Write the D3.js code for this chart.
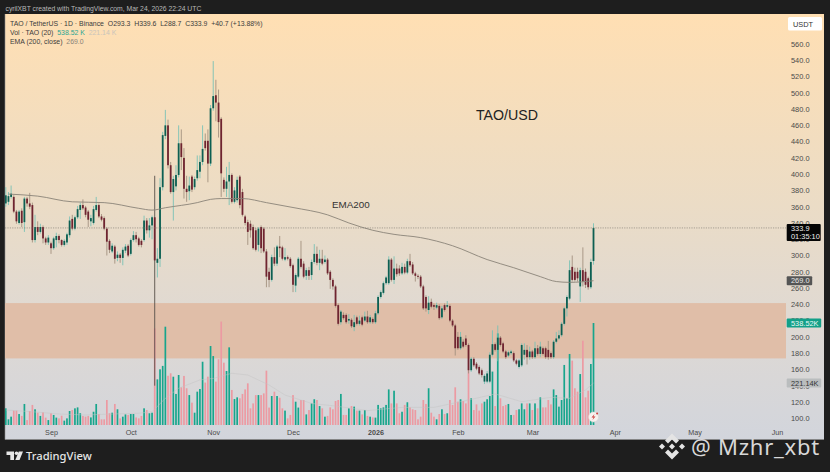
<!DOCTYPE html>
<html lang="en">
<head>
<meta charset="UTF-8">
<title>TAO/USD</title>
<script src="https://d3js.org/d3.v7.min.js"></script>
<style>
  html, body { margin: 0; padding: 0; background: #1e1e1e; }
  svg { display: block; font-family: "Liberation Sans", Arial, sans-serif; }
  text { white-space: pre; }
</style>
</head>
<body>
<div id="chart"></div>

<script>
// Daily candles, one per day from this date on
const firstDay = "2025-08-15";

const opens = [
  364,366,372,372,354,340,355,341,370,364, 362,319,335,329,335,321,316,315,309,319,
  324,319,313,316,325,345,333,347,356,362, 359,354,342,340,356,362,348,346,333,318,
  305,311,297,301,297,306,312,302,319,325, 321,318,319,343,331,337,347,291,296,384,
  447,460,411,378,385,399,438,420,382,379, 397,384,395,403,415,441,441,413,481,497,
  488,468,393,382,391,399,366,368,397,378, 348,341,339,335,331,313,335,333,305,280,
  270,298,290,311,310,295,298,296,288,263, 274,296,290,275,282,276,292,302,291,296,
  292,295,280,270,262,239,218,227,227,220, 221,212,224,216,224,220,225,218,222,218,
  229,249,254,266,266,295,270,284,284,278, 286,279,293,289,278,275,274,262,249,233,
  243,239,236,238,224,239,237,238,220,214, 200,186,194,198,190,159,173,167,163,159,
  145,145,145,178,191,184,199,192,182,177, 180,180,171,163,165,178,184,175,182,175,
  186,179,186,186,184,180,175,194,198,202, 216,235,247,286,280,280,262,282,280,272,
  261,293.3
];
const highs = [
  384,378,386,374,356,356,358,372,372,377, 365,350,342,339,337,323,325,317,323,328,
  326,320,320,328,348,350,349,361,365,369, 361,356,350,361,372,364,351,348,335,320,
  315,313,305,303,310,314,314,321,330,329, 323,320,349,346,346,349,398,309,395,452,
  479,467,415,398,411,460,455,432,398,397, 399,397,423,423,460,450,455,485,539,516,
  504,470,396,409,415,401,384,397,399,382, 350,344,343,338,334,335,337,335,308,285,
  301,310,313,324,312,309,300,298,290,278, 298,318,293,285,286,295,314,311,307,307,
  300,297,282,272,264,241,233,230,229,228, 223,227,226,226,226,231,232,227,224,232,
  251,257,268,275,299,297,299,290,288,291, 290,296,302,292,280,277,276,264,251,250,
  247,241,242,240,238,241,244,240,222,216, 206,206,197,202,192,175,175,169,165,161,
  154,158,181,208,193,214,201,194,184,183, 184,182,173,173,192,192,190,188,184,194,
  190,194,188,188,195,182,196,206,208,218, 237,251,294,300,285,285,285,310,284,274,
  296,339.6
];
const lows = [
  360,362,370,352,339,338,335,329,360,357, 316,316,325,327,315,313,313,302,307,310,
  315,311,311,313,322,331,331,345,345,356, 347,335,336,338,354,346,342,331,300,303,
  303,290,293,291,288,303,298,300,317,316, 311,310,317,327,322,320,140,273,286,380,
  443,407,376,343,380,396,405,370,366,368, 378,381,392,395,411,429,390,410,478,465,
  445,372,378,372,362,364,364,365,358,348, 337,313,322,307,305,305,303,303,261,261,
  268,287,287,298,294,293,294,285,255,255, 272,284,272,270,270,270,290,288,282,288,
  290,276,259,258,236,214,215,221,216,216, 211,207,214,214,213,218,216,216,216,216,
  227,247,252,264,264,268,265,274,275,276, 277,277,286,276,268,271,260,233,231,228,
  235,233,234,221,222,231,235,218,212,177, 184,184,186,188,155,157,163,159,153,150,
  142,143,143,176,182,170,188,180,173,175, 178,169,165,161,163,172,166,172,173,173,
  177,175,177,173,172,173,173,192,196,200, 214,225,245,268,268,268,243,262,260,258,
  259,288.7
];
const closes = [
  374,373,376,354,342,354,340,370,364,360, 319,335,329,335,321,316,322,309,321,324,
  319,313,318,326,343,333,347,357,362,358, 350,344,346,357,362,348,344,333,317,307,
  312,296,301,297,307,311,300,319,325,320, 313,313,343,331,337,347,294,296,384,448,
  460,411,378,394,399,438,421,382,378,386, 381,394,405,415,431,432,413,481,496,488,
  464,401,382,391,399,366,380,393,362,350, 340,329,331,309,307,333,309,305,274,270,
  298,290,311,309,296,298,296,287,264,276, 296,286,274,282,275,292,302,291,296,290,
  295,278,270,262,238,216,231,223,218,222, 213,218,216,220,215,225,218,224,218,229,
  249,255,266,273,295,270,284,277,278,286, 279,293,288,278,275,274,262,235,235,242,
  237,237,239,223,235,233,239,220,214,186, 186,200,188,190,159,173,165,161,155,153,
  152,155,178,191,184,199,190,182,175,181, 182,171,167,171,190,184,175,182,175,186,
  179,188,179,175,175,175,194,198,202,216, 235,249,282,270,270,272,282,268,264,261,
  292,333.9
];
// Volume in thousands
const volumes = [
  88,30,44,76,76,58,48,111,26,74, 106,83,65,48,67,39,26,62,53,39,
  35,49,23,35,74,79,88,93,62,48, 44,48,40,70,111,58,30,30,132,62,
  65,111,83,35,44,56,53,58,58,40, 35,48,88,79,62,65,510,241,294,312,
  519,260,273,255,164,264,199,259,194,158, 118,65,176,190,334,224,255,417,364,229,
  347,546,329,285,410,185,137,146,141,164, 188,220,88,114,158,158,158,167,287,92,
  153,176,153,144,88,76,35,53,158,123, 92,132,132,56,79,114,136,132,100,88,
  44,48,93,83,127,132,164,53,53,88, 100,97,76,76,56,79,48,44,40,39,
  106,88,93,106,188,114,181,114,62,70, 106,120,93,83,79,30,44,132,111,194,
  65,44,30,58,83,58,62,132,106,199, 123,136,127,114,290,141,79,109,76,114,
  123,136,153,282,100,484,141,100,106,111, 53,53,79,83,114,83,114,114,79,114,
  88,146,93,93,132,109,188,158,97,132, 317,141,375,340,194,176,269,445,146,181,
  322,538.52
];
// Volume average, read at the bends of the line
const volumeAvgDays = [0,10,20,30,40,50,55,60,65,73,78,85,91,99,105,115,124,136,149,161,174,184,194,205,212,218,221];
const volumeAvg = [79,70,58,53,58,62,70,141,194,238,246,273,264,211,158,114,100,76,93,93,132,164,123,146,141,185,221.14];
// EMA 200, read at the bends of the line
const emaDays = [1,12,25,37,50,55,60,72,77,81,89,98,108,121,129,138,146,156,168,181,191,201,207,212,221];
const emaValues = [375.5,373,366,365,358,355.8,358.7,365,369,370,370,365,359,350,340,331,326,322,312,295,285,274,268,267,269];

const priceTicks = d3.range(100, 561, 20);
const monthTicks = ["2025-09-01","2025-10-01","2025-11-01","2025-12-01","2026-01-01","2026-02-01","2026-03-01","2026-04-01","2026-05-01","2026-06-01"];
const monthLabels = ["Sep","Oct","Nov","Dec","2026","Feb","Mar","Apr","May","Jun"];
const zoneTop = 241.5;
const zoneBottom = 173.5;

const width = 830, height = 472;
const panel = { left: 5, top: 14, right: 824, bottom: 439.5 };
const axisX = 786;
const volumeBase = 425;

const parseDay = d3.utcParse("%Y-%m-%d");
const dayAt = i => d3.utcDay.offset(parseDay(firstDay), i);

const x = d3.scaleUtc()
  .domain([parseDay("2025-09-01"), parseDay("2026-06-01")])
  .range([51, 777]);
const y = d3.scaleLinear().domain([100, 560]).range([418.2, 44]);
const v = d3.scaleLinear().domain([0, 538.52]).range([volumeBase, 323]);

const svg = d3.select("#chart").append("svg")
  .attr("width", width)
  .attr("height", height);

// Background
const defs = svg.append("defs");
const grad = defs.append("linearGradient")
  .attr("id", "bg").attr("x1", 0).attr("y1", 0).attr("x2", 0).attr("y2", 1);
grad.append("stop").attr("offset", "0%").attr("stop-color", "#ffdfb3");
grad.append("stop").attr("offset", "45%").attr("stop-color", "#ebdcc6");
grad.append("stop").attr("offset", "72%").attr("stop-color", "#dfd9d3");
grad.append("stop").attr("offset", "100%").attr("stop-color", "#d2d5dc");

defs.append("clipPath").attr("id", "plot").append("rect")
  .attr("x", panel.left).attr("y", panel.top)
  .attr("width", axisX - panel.left).attr("height", panel.bottom - panel.top);

svg.append("rect")
  .attr("x", panel.left).attr("y", panel.top)
  .attr("width", panel.right - panel.left).attr("height", panel.bottom - panel.top)
  .attr("fill", "url(#bg)");
svg.append("path")
  .attr("d", `M${panel.left},${panel.top}V${panel.bottom}H${panel.right}`)
  .attr("fill", "none").attr("stroke", "#8f8f8f").attr("stroke-width", 0.6);

// Highlighted zone
svg.append("rect")
  .attr("x", panel.left).attr("y", y(zoneTop))
  .attr("width", axisX - panel.left).attr("height", y(zoneBottom) - y(zoneTop))
  .attr("fill", "#e0bea8");

const plot = svg.append("g").attr("clip-path", "url(#plot)");
const days = d3.range(closes.length);
const isUp = i => closes[i] >= opens[i];
// The October crash wick reads much darker than the others
const longestWick = d3.greatest(days, i => highs[i] - lows[i]);

// Volume bars
plot.append("g").selectAll("rect")
  .data(days)
  .join("rect")
  .attr("x", i => x(dayAt(i)) - 0.85)
  .attr("width", 1.7)
  .attr("y", i => v(volumes[i]))
  .attr("height", i => volumeBase - v(volumes[i]))
  .attr("fill", i => isUp(i) ? "#17a58c" : "#ec9aa2");

// Volume average
plot.append("path")
  .datum(volumeAvgDays)
  .attr("fill", "none")
  .attr("stroke", "#c3c3c3")
  .attr("stroke-width", 0.6)
  .attr("stroke-opacity", 0.8)
  .attr("d", d3.line()
    .x(i => x(dayAt(i)))
    .y((i, n) => v(volumeAvg[n])));

// Wicks
plot.append("g").selectAll("line")
  .data(days)
  .join("line")
  .attr("x1", i => x(dayAt(i)))
  .attr("x2", i => x(dayAt(i)))
  .attr("y1", i => y(highs[i]))
  .attr("y2", i => y(lows[i]))
  .attr("stroke", i => i === longestWick ? "#57504a" : isUp(i) ? "#79c2b5" : "#a3917f")
  .attr("stroke-width", 0.9);

// Bodies
plot.append("g").selectAll("rect")
  .data(days)
  .join("rect")
  .attr("x", i => x(dayAt(i)) - 0.9)
  .attr("width", 1.8)
  .attr("y", i => y(Math.max(opens[i], closes[i])))
  .attr("height", i => Math.max(1, Math.abs(y(opens[i]) - y(closes[i]))))
  .attr("fill", i => isUp(i) ? "#0d5f52" : "#6f2430");

// EMA
plot.append("path")
  .datum(emaDays)
  .attr("fill", "none")
  .attr("stroke", "#8a8378")
  .attr("stroke-width", 0.9)
  .attr("d", d3.line()
    .curve(d3.curveMonotoneX)
    .x(i => x(dayAt(i)))
    .y((i, n) => y(emaValues[n])));

// Last price line
const lastClose = closes[closes.length - 1];
svg.append("line")
  .attr("x1", panel.left).attr("x2", axisX)
  .attr("y1", y(lastClose)).attr("y2", y(lastClose))
  .attr("stroke", "#77736c").attr("stroke-width", 0.6)
  .attr("stroke-dasharray", "1.2 1.2");

// Axes
const priceAxis = svg.append("g")
  .attr("transform", `translate(${axisX},0)`)
  .call(d3.axisRight(y).tickValues(priceTicks).tickFormat(d => d.toFixed(1)).tickSize(0).tickPadding(5));
priceAxis.select(".domain").remove();
priceAxis.selectAll("text")
  .attr("font-family", "'Liberation Sans', Arial, sans-serif")
  .attr("font-size", 7.4).attr("fill", "#4a4a4a");

const timeAxis = svg.append("g")
  .attr("transform", "translate(0,426)")
  .call(d3.axisBottom(x)
    .tickValues(monthTicks.map(parseDay))
    .tickFormat((d, i) => monthLabels[i])
    .tickSize(0).tickPadding(4));
timeAxis.select(".domain").remove();
timeAxis.selectAll("text")
  .attr("font-family", "'Liberation Sans', Arial, sans-serif")
  .attr("font-size", 7.2).attr("fill", "#4a4a4a")
  .attr("font-weight", (d, i) => monthLabels[i] === "2026" ? "bold" : "normal");

// Axis badges
function badge(top, bottom, w, fill, lines, color) {
  svg.append("rect")
    .attr("x", axisX + 0.7).attr("y", top).attr("width", w).attr("height", bottom - top)
    .attr("rx", 1).attr("fill", fill);
  lines.forEach((t, n) => {
    svg.append("text")
      .attr("x", axisX + 5).attr("y", top + 7 + n * 8.4)
      .attr("font-size", 7.4).attr("fill", color).text(t);
  });
}
badge(y(lastClose) - 4, y(lastClose) + 13, 34, "#050505", [lastClose.toFixed(1), "01:35:10"], "#f2f2f2");
badge(y(269) - 4.5, y(269) + 4.5, 25.5, "#555555", ["269.0"], "#e8e8e8");
badge(v(538.52) - 4.5, v(538.52) + 4.5, 34.5, "#13a088", ["538.52K"], "#eafaf6");
badge(v(221.14) - 4.5, v(221.14) + 4.5, 34.5, "#babdbe", ["221.14K"], "#333333");

// Currency button
svg.append("rect")
  .attr("x", 788).attr("y", 17).attr("width", 34).attr("height", 13.5)
  .attr("rx", 1.5).attr("fill", "#ffffff");
svg.append("text").attr("x", 793).attr("y", 26.5)
  .attr("font-size", 7.4).attr("fill", "#333").text("USDT");

// Header and legend
svg.append("text").attr("x", 5.5).attr("y", 11)
  .attr("font-size", 6.8).attr("fill", "#b9b9b9")
  .text("cyrilXBT created with TradingView.com, Mar 24, 2026 22:24 UTC");

const legend1 = svg.append("text").attr("x", 10).attr("y", 25.5).attr("font-size", 6.9).attr("fill", "#3c3c3c");
legend1.append("tspan").text("TAO / TetherUS · 1D · Binance  O293.3  H339.6  L288.7  C333.9  +40.7 (+13.88%)");
const legend2 = svg.append("text").attr("x", 10).attr("y", 34.5).attr("font-size", 6.9).attr("fill", "#3c3c3c");
legend2.append("tspan").text("Vol · TAO (20)  ");
legend2.append("tspan").attr("fill", "#2aa593").text("538.52 K  ");
legend2.append("tspan").attr("fill", "#c8c4bc").text("221.14 K");
const legend3 = svg.append("text").attr("x", 10).attr("y", 43.5).attr("font-size", 6.9).attr("fill", "#3c3c3c");
legend3.append("tspan").text("EMA (200, close)  ");
legend3.append("tspan").attr("fill", "#8a8378").text("269.0");

// Annotations
svg.append("text").attr("x", 476).attr("y", 120)
  .attr("font-size", 14.2).attr("fill", "#222").text("TAO/USD");
svg.append("text").attr("x", 332).attr("y", 208)
  .attr("font-size", 9.8).attr("fill", "#333").text("EMA200");

// Small flash badge on the last bar
const flash = svg.append("g").attr("transform", `translate(${x(dayAt(221))},417)`);
flash.append("circle").attr("r", 5).attr("fill", "#f6f1ee").attr("stroke", "#d9d4d0").attr("stroke-width", 0.5);
flash.append("path").attr("d", "M1,-3L-2,0.6H0L-1,3L2,-0.6H0Z").attr("fill", "#d0423e");
flash.append("circle").attr("cx", 3.6).attr("cy", -3.4).attr("r", 1).attr("fill", "#d0423e");

// TradingView logo
const tv = svg.append("g").attr("transform", "translate(6.5,451.5)").attr("fill", "#e6e6e6");
tv.append("path").attr("d", "M0,0H7.5V8.5H3.8V3.6H0Z");
tv.append("circle").attr("cx", 10).attr("cy", 1.8).attr("r", 1.8);
tv.append("path").attr("d", "M12.3,0H16.5L13,8.5H8.8Z");
svg.append("text").attr("x", 26).attr("y", 460)
  .attr("font-size", 11.2).attr("font-family", "'Noto Sans', sans-serif").attr("font-weight", 500)
  .attr("fill", "#e6e6e6").text("TradingView");

// Watermark
const mark = svg.append("g").attr("transform", "translate(672,446.5)").attr("fill", "#e4e4e4");
mark.append("path").attr("d", "M0,-13L7,-6L4,-3L0,-7L-4,-3L-7,-6Z");
mark.append("path").attr("d", "M0,13L7,6L4,3L0,7L-4,3L-7,6Z");
mark.append("path").attr("d", "M-13,0L-10,-3L-7,0L-10,3Z");
mark.append("path").attr("d", "M13,0L10,-3L7,0L10,3Z");
mark.append("path").attr("d", "M0,-3L3,0L0,3L-3,0Z");
svg.append("text").attr("x", 691).attr("y", 455)
  .attr("font-size", 22).attr("letter-spacing", 0.75).attr("font-family", "'Noto Sans', sans-serif")
  .attr("fill", "#d8d8d8").text("@ Mzhr_xbt");
</script>
</body>
</html>
